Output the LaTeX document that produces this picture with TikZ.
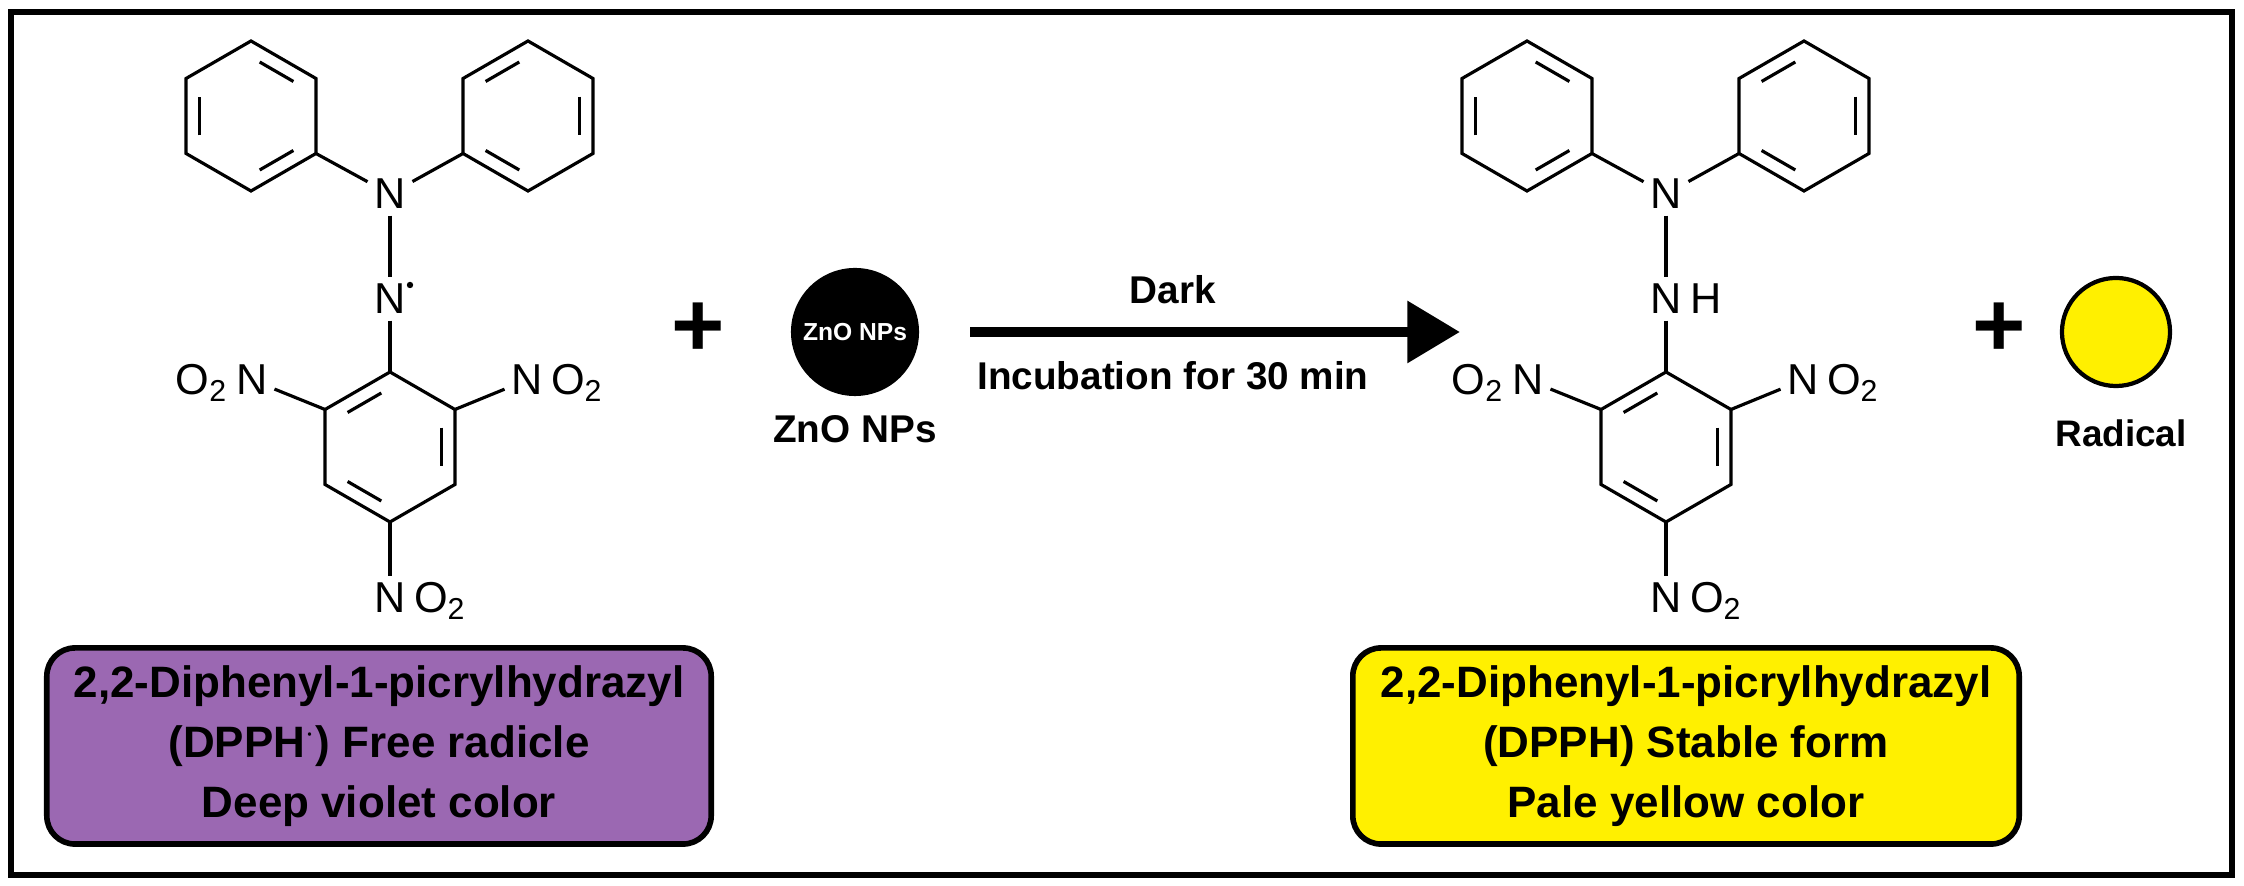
\documentclass[tikz,border=0pt]{standalone}
\usepackage{fontspec}
\setmainfont{Liberation Sans}
\usetikzlibrary{calc,arrows.meta}
\definecolor{violetbox}{RGB}{155,104,178}
\definecolor{yel}{RGB}{255,240,0}
\newcommand{\dbl}[2]{\draw ($(#1:59)!0.17!(#2:59)$) -- ($(#1:59)!0.83!(#2:59)$);}
\newcommand{\hexa}{\draw (90:75)--(30:75)--(-30:75)--(-90:75)--(-150:75)--(150:75)--cycle;}
\begin{document}
\begin{tikzpicture}[x=0.01cm,y=-0.01cm,line width=0.9pt,
  atom/.style={inner sep=1.5pt,font=\fontsize{12.3}{14}\selectfont},
  sub/.style={anchor=base west,inner sep=0pt,font=\fontsize{12.3}{14}\selectfont},
  subl/.style={anchor=base east,inner sep=0pt,font=\fontsize{12.3}{14}\selectfont},
  lbl/.style={font=\bfseries\fontsize{11}{13}\selectfont},
  box/.style={draw=black,line width=1.6pt,rounded corners=8pt,minimum width=664\pgflinewidth,align=center,
     font=\bfseries\fontsize{12.5}{17}\selectfont}]
\useasboundingbox (0,0) rectangle (2244,886);
\draw[line width=1.5pt] (11,12) rectangle (2232,875);

\foreach \ox/\rad in {0/1,1276/0}{
\begin{scope}[xshift=\ox*0.01cm]
  \begin{scope}[shift={(251,116)},yscale=-1] \hexa \dbl{90}{30} \dbl{-30}{-90} \dbl{-150}{150}
    \coordinate (la) at (-30:75); \end{scope}
  \begin{scope}[shift={(528,116)},yscale=-1] \hexa \dbl{90}{150} \dbl{30}{-30} \dbl{-90}{-150}
    \coordinate (ra) at (-150:75); \end{scope}
  \begin{scope}[shift={(390,447)},yscale=-1] \hexa \dbl{90}{150} \dbl{30}{-30} \dbl{-90}{-150}
    \coordinate (pt) at (90:75); \coordinate (pl) at (150:75);
    \coordinate (pr) at (30:75); \coordinate (pb) at (-90:75); \end{scope}
  \node[atom] (n1) at (390,194) {N};
  \node[atom] (n2) at (390,299) {N};
  \node[atom] (nl) at (252,380) {N};
  \node[subl] at (nl.base west) {O\textsubscript{2}};
  \node[atom] (nr) at (527,380) {N};
  \node[sub] at (nr.base east) {O\textsubscript{2}};
  \node[atom] (nb) at (390,598) {N};
  \node[sub] at (nb.base east) {O\textsubscript{2}};
  \draw (la) -- (n1); \draw (ra) -- (n1); \draw (n1) -- (n2); \draw (n2) -- (pt);
  \draw (pl) -- (nl); \draw (pr) -- (nr); \draw (pb) -- (nb);
  \ifnum\rad=1
    \fill ($(n2.center)+(20,-14)$) circle (3.2);
  \else
    \node[sub] at (n2.base east) {H};
  \fi
\end{scope}}

\node[box,fill=violetbox,minimum width=6.64cm,minimum height=1.96cm] (b1) at (379,746)
 {2,2-Diphenyl-1-picrylhydrazyl\\(DPPH\textsuperscript{$\cdot$}) Free radicle\\Deep violet color};
\node[box,fill=yel,minimum width=6.66cm,minimum height=1.96cm] (b2) at (1686,746)
 {2,2-Diphenyl-1-picrylhydrazyl\\(DPPH) Stable form\\Pale yellow color};

\node[font=\bfseries\fontsize{26}{26}\selectfont] (p1) at (698,330) {+};
\node[circle,fill=black,minimum size=1.28cm,inner sep=0pt,text=white,font=\bfseries\fontsize{7}{8}\selectfont] (zn) at (855,332) {ZnO NPs};
\node[lbl] (znl) at (855,429) {ZnO NPs};
\coordinate (as) at (970,332); \coordinate (ae) at (1460,332);
\draw[line width=3pt,-{Triangle[length=15pt,width=17pt]}] (as) -- (ae);
\node[lbl] (dark) at (1173,290) {Dark};
\node[lbl] (inc) at (1173,376) {Incubation for 30 min};
\node[font=\bfseries\fontsize{26}{26}\selectfont] (p2) at (1999,330) {+};
\node[circle,draw=black,line width=1.2pt,fill=yel,minimum size=1.08cm,inner sep=0pt] (rc) at (2116,332) {};
\node[lbl,font=\bfseries\fontsize{10.5}{12}\selectfont] (rl) at (2121,433) {Radical};
\end{tikzpicture}
\end{document}
